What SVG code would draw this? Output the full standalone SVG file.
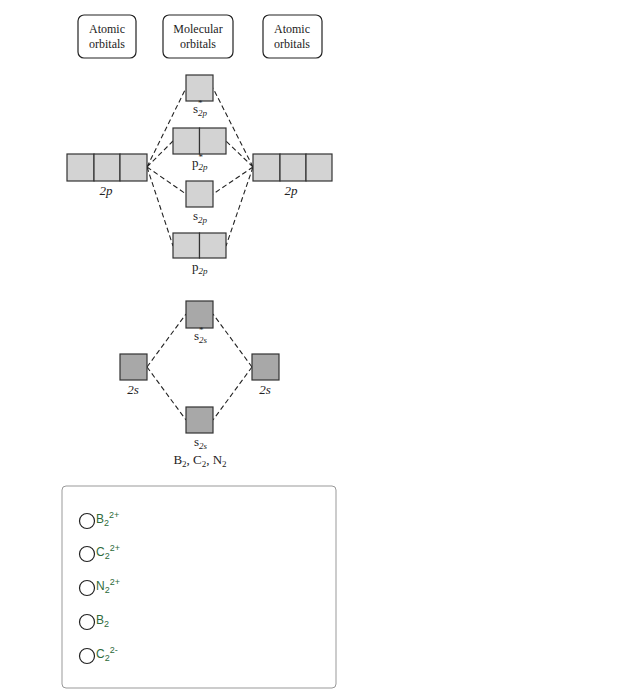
<svg xmlns="http://www.w3.org/2000/svg" width="627" height="694" viewBox="0 0 627 694">
<style>
.hdr{fill:#fff;stroke:#222;stroke-width:1.2}
.ht{font-family:"Liberation Serif",serif;font-size:12px;fill:#222;text-anchor:middle}
.lb{fill:#d3d3d3;stroke:#333;stroke-width:1.2}
.db{fill:#a8a8a8;stroke:#333;stroke-width:1.2}
.dl{stroke:#222;stroke-width:1.1;stroke-dasharray:5,3;fill:none}
.t{font-family:"Liberation Serif",serif;font-size:13px;fill:#222;text-anchor:middle}
.st{font-family:"Liberation Serif",serif;font-size:13px;fill:#222}
.s{font-size:9px}
.opt{font-family:"Liberation Sans",sans-serif;font-size:12px;fill:#2e6b3a}
.rad{fill:#fff;stroke:#222;stroke-width:1.2}
</style>
<rect width="627" height="694" fill="#fff"/>
<g id="headers">
<rect class="hdr" x="78" y="15" width="58" height="43" rx="6"/>
<text class="ht" x="107" y="33">Atomic</text><text class="ht" x="107" y="48">orbitals</text>
<rect class="hdr" x="163" y="15" width="70" height="43" rx="6"/>
<text class="ht" x="198" y="33">Molecular</text><text class="ht" x="198" y="48">orbitals</text>
<rect class="hdr" x="263" y="15" width="59" height="43" rx="6"/>
<text class="ht" x="292" y="33">Atomic</text><text class="ht" x="292" y="48">orbitals</text>
</g>
<g id="connectors">
<path class="dl" d="M147 167L186 88M147 167L173 141M147 167L186 194M147 167L173 246"/>
<path class="dl" d="M253 167L213 88M253 167L226 141M253 167L213 194M253 167L226 246"/>
<path class="dl" d="M147 367L186 314M147 367L186 420M252 367L213 314M252 367L213 420"/>
</g>
<g id="left2p"><rect class="lb" x="67" y="154" width="27" height="27"/><rect class="lb" x="94" y="154" width="26" height="27"/><rect class="lb" x="120" y="154" width="27" height="27"/><text class="t" x="106" y="195" font-style="italic">2p</text></g>
<g id="right2p"><rect class="lb" x="253" y="154" width="27" height="27"/><rect class="lb" x="280" y="154" width="26" height="27"/><rect class="lb" x="306" y="154" width="26" height="27"/><text class="t" x="291" y="195" font-style="italic">2p</text></g>
<g id="s2pstar"><rect class="lb" x="186" y="75" width="27" height="26"/><text class="st" x="193" y="113">s<tspan class="s" dy="3" font-style="italic">2p</tspan><tspan class="s" dx="-9" dy="-10">*</tspan></text></g>
<g id="p2pstar"><rect class="lb" x="173" y="128" width="26.5" height="26"/><rect class="lb" x="199.5" y="128" width="26.5" height="26"/><text class="st" x="192" y="167">p<tspan class="s" dy="3" font-style="italic">2p</tspan><tspan class="s" dx="-9" dy="-10">*</tspan></text></g>
<g id="s2p"><rect class="lb" x="186" y="181" width="27" height="26"/><text class="st" x="193" y="220">s<tspan class="s" dy="3" font-style="italic">2p</tspan></text></g>
<g id="p2p"><rect class="lb" x="173" y="233" width="26.5" height="25"/><rect class="lb" x="199.5" y="233" width="26.5" height="25"/><text class="st" x="192" y="271">p<tspan class="s" dy="3" font-style="italic">2p</tspan></text></g>
<g id="s2sstar"><rect class="db" x="186" y="301" width="27" height="27"/><text class="st" x="194" y="340">s<tspan class="s" dy="3" font-style="italic">2s</tspan><tspan class="s" dx="-8" dy="-10">*</tspan></text></g>
<g id="left2s"><rect class="db" x="120" y="354" width="27" height="26"/><text class="t" x="133" y="394" font-style="italic">2s</text></g>
<g id="right2s"><rect class="db" x="252" y="354" width="27" height="26"/><text class="t" x="265" y="394" font-style="italic">2s</text></g>
<g id="s2s"><rect class="db" x="186" y="407" width="27" height="26"/><text class="st" x="194" y="446">s<tspan class="s" dy="3" font-style="italic">2s</tspan></text>
<text class="t" x="200" y="464">B<tspan class="s" dy="3">2</tspan><tspan dy="-3">, C</tspan><tspan class="s" dy="3">2</tspan><tspan dy="-3">, N</tspan><tspan class="s" dy="3">2</tspan></text></g>
<g id="options">
<rect x="62" y="486" width="274" height="202" rx="4" fill="#fff" stroke="#999" stroke-width="1"/>
<circle class="rad" cx="87" cy="521" r="7.5"/><text class="opt" x="96" y="523">B<tspan font-size="9" dy="3">2</tspan><tspan font-size="9" dy="-8">2+</tspan></text>
<circle class="rad" cx="87" cy="554" r="7.5"/><text class="opt" x="96" y="556">C<tspan font-size="9" dy="3">2</tspan><tspan font-size="9" dy="-8">2+</tspan></text>
<circle class="rad" cx="87" cy="588" r="7.5"/><text class="opt" x="96" y="590">N<tspan font-size="9" dy="3">2</tspan><tspan font-size="9" dy="-8">2+</tspan></text>
<circle class="rad" cx="87" cy="622" r="7.5"/><text class="opt" x="96" y="624">B<tspan font-size="9" dy="3">2</tspan></text>
<circle class="rad" cx="87" cy="656" r="7.5"/><text class="opt" x="96" y="658">C<tspan font-size="9" dy="3">2</tspan><tspan font-size="9" dy="-8">2-</tspan></text>
</g>
</svg>
